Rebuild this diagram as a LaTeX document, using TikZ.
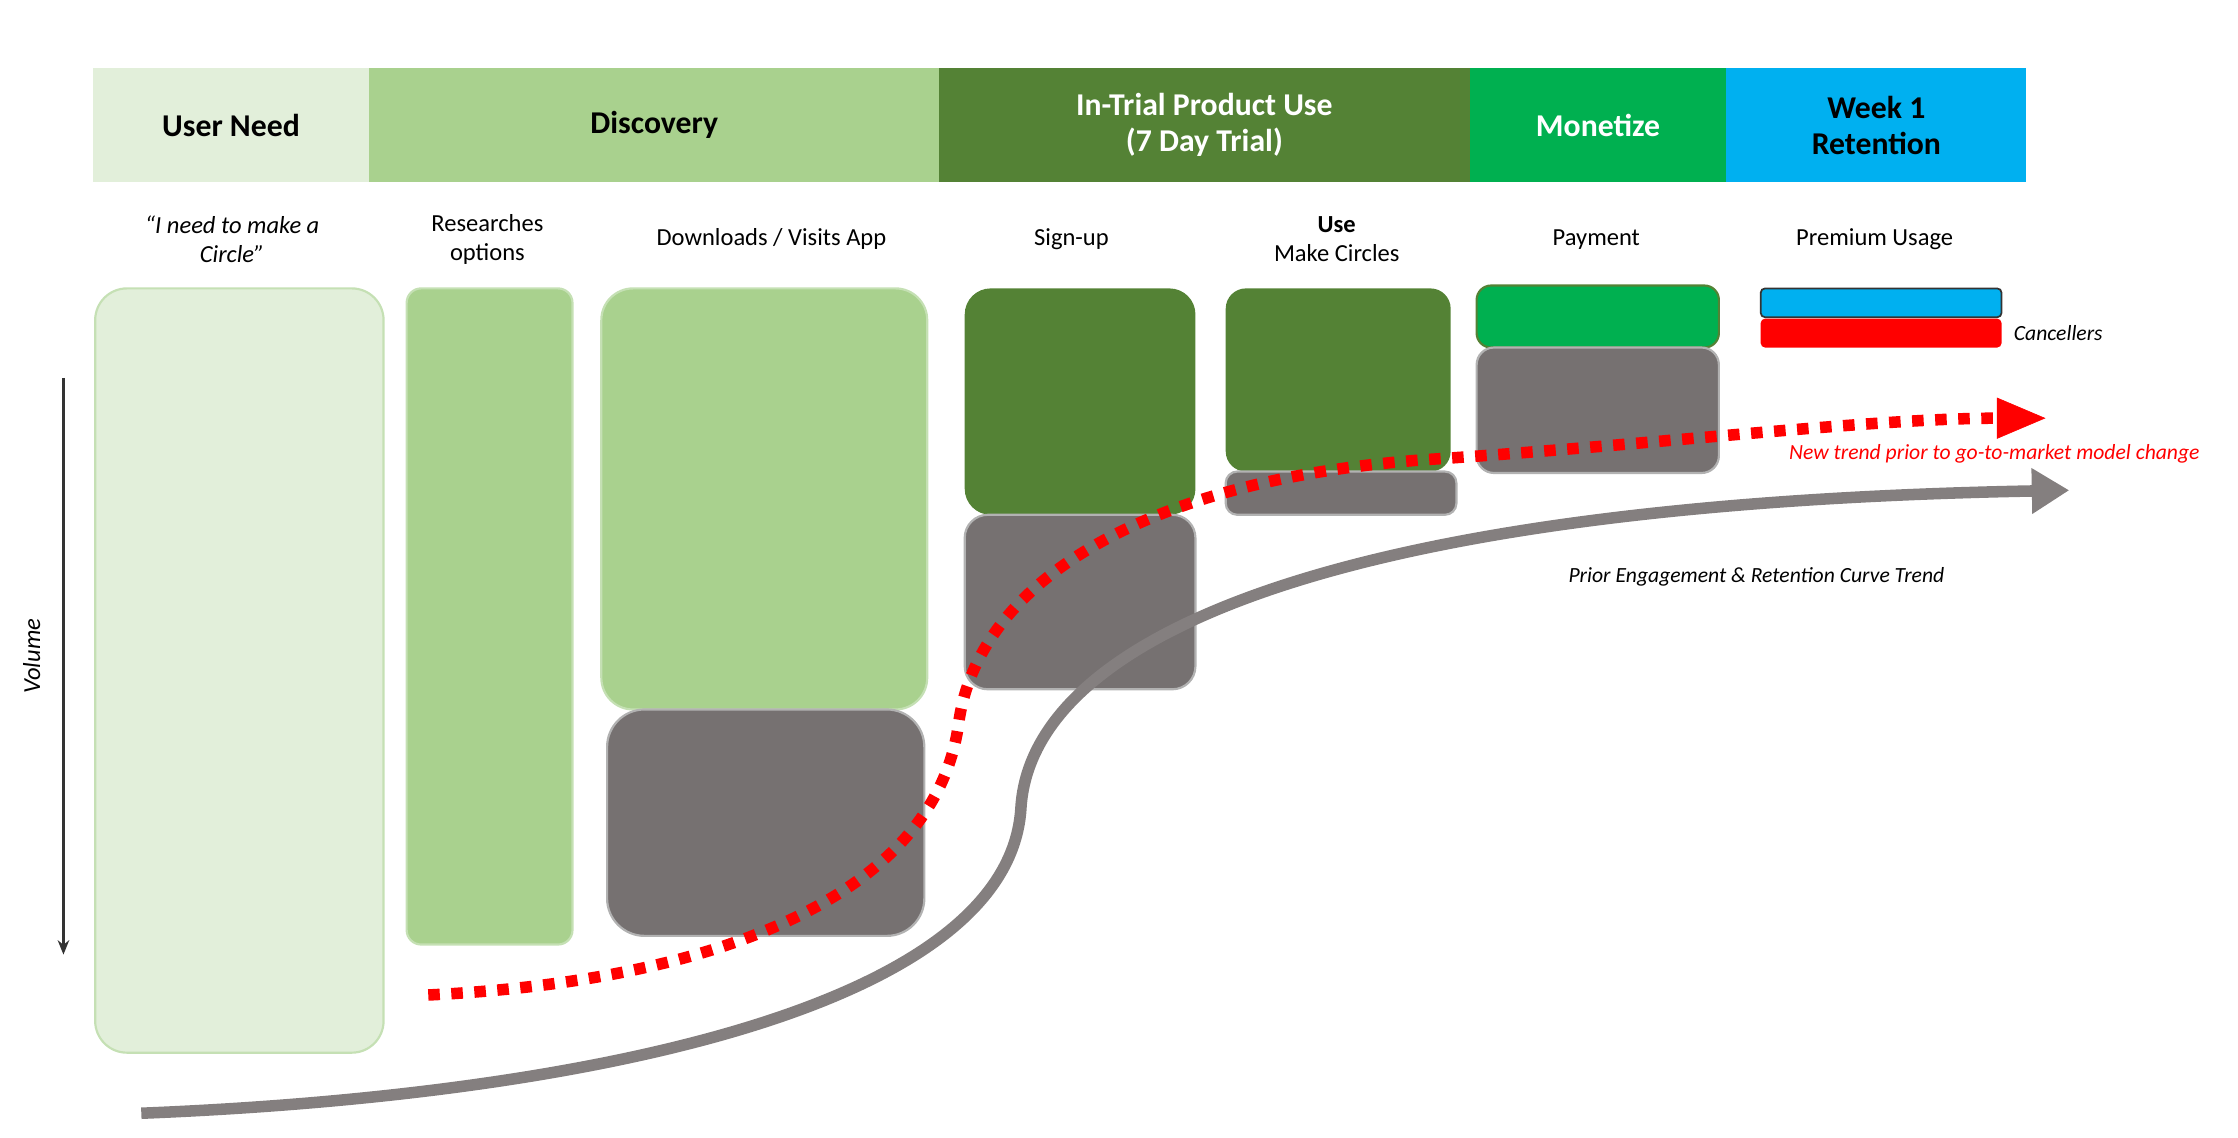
\documentclass[tikz,border=0pt]{standalone}
\usepackage{fontspec}
\setmainfont{Carlito}
\usetikzlibrary{arrows.meta}
\definecolor{pale}{HTML}{E2EFDA}
\definecolor{paleb}{HTML}{C5E0B4}
\definecolor{lgreen}{HTML}{A9D18E}
\definecolor{dgreen}{HTML}{548235}
\definecolor{mgreen}{HTML}{00B050}
\definecolor{sky}{HTML}{00B0F0}
\definecolor{grayb}{HTML}{767171}
\begin{document}
\begin{tikzpicture}[x=1pt,y=-1pt,
 hdr/.style={draw=none,minimum height=79pt,inner sep=0pt,font=\bfseries\fontsize{22}{25}\selectfont,align=center,anchor=north west},
 lab/.style={font=\fontsize{17}{20}\selectfont,align=center},
 box/.style={rounded corners=16pt,draw=#1!85!black,line width=1pt},
 gbox/.style={rounded corners=16pt,fill=grayb,draw=gray!60,line width=1.5pt}]
\useasboundingbox (0,0) rectangle (1552,789);
\node[hdr,fill=pale,minimum width=192pt] (h1) at (64,47) {User Need};
\node[hdr,fill=lgreen,minimum width=395pt] (h2) at (256,47) {Discovery};
\node[hdr,fill=dgreen,text=white,minimum width=368pt] (h3) at (651,47) {In-Trial Product Use\\(7 Day Trial)};
\node[hdr,fill=mgreen,text=white,minimum width=178pt] (h4) at (1019,47) {Monetize};
\node[hdr,fill=sky,minimum width=208pt] (h5) at (1197,47) {Week 1\\Retention};
\node[lab] (l1) at (161,166) {\itshape “I need to make a\\\itshape Circle”};
\node[lab] (l2) at (338,166) {Researches\\options};
\node[lab] (l3) at (535,166) {Downloads / Visits App};
\node[lab] (l4) at (743,166) {Sign-up};
\node[lab] (l5) at (927,166) {\textbf{Use}\\Make Circles};
\node[lab] (l6) at (1107,166) {Payment};
\node[lab] (l7) at (1300,166) {Premium Usage};
\draw[fill=pale,draw=paleb,line width=1.5pt,rounded corners=22pt] (66,200) rectangle (266,730);
\draw[fill=lgreen,draw=paleb,line width=1.5pt,rounded corners=10pt] (282,200) rectangle (397,655);
\draw[fill=lgreen,draw=paleb,line width=1.5pt,rounded corners=22pt] (417,200) rectangle (643,492);
\draw[gbox,rounded corners=26pt] (421,492) rectangle (641,649);
\draw[fill=dgreen,draw=none,rounded corners=18pt] (669,200) rectangle (829,357);
\draw[gbox] (669,357) rectangle (829,478);
\draw[fill=dgreen,draw=none,rounded corners=14pt] (850,200) rectangle (1006,327);
\draw[gbox,rounded corners=8pt] (850,327) rectangle (1010,357);
\draw[fill=mgreen,draw=dgreen,line width=1.5pt,rounded corners=10pt] (1024,198) rectangle (1192,241);
\draw[gbox,rounded corners=12pt] (1024,241) rectangle (1192,328);
\draw[fill=sky,draw=black!80,line width=1.2pt,rounded corners=3pt] (1221,200) rectangle (1388,220);
\draw[fill=red,draw=none,rounded corners=3pt] (1221,221) rectangle (1388,241);
\node[font=\itshape\fontsize{15}{18}\selectfont,anchor=west] (canc) at (1393,231) {Cancellers};
\coordinate (v1) at (44,262); \coordinate (v2) at (44,662);
\draw[-{Stealth[length=10pt,width=8pt]},line width=1.5pt,black!80] (v1) -- (v2);
\node[font=\itshape\fontsize{17}{20}\selectfont,rotate=90] (vol) at (22,455) {Volume};
\coordinate (g0) at (98,772); \coordinate (g1) at (1435,340);
\draw[line width=8pt,grayb!90,-{Triangle[length=26pt,width=30pt]}] (g0) .. controls (400,760) and (700,700) .. (708,560) .. controls (715,450) and (900,350) .. (g1);
\coordinate (r0) at (297,690); \coordinate (r1) at (1418,290);
\draw[line width=8pt,red,dash pattern=on 8pt off 8pt] (r0) .. controls (500,680) and (650,620) .. (665,500) .. controls (680,400) and (800,330) .. (1000,318) .. controls (1150,308) and (1300,290) .. (1385,290);
\draw[red,fill=red] (1418,290) -- (1385,276) -- (1385,304) -- cycle;
\node[font=\itshape\fontsize{15}{18}\selectfont,text=red] (nt) at (1383,315) {New trend prior to go-to-market model change};
\node[font=\itshape\fontsize{15}{18}\selectfont] (pe) at (1218,400) {Prior Engagement \& Retention Curve Trend};
\end{tikzpicture}
\end{document}
